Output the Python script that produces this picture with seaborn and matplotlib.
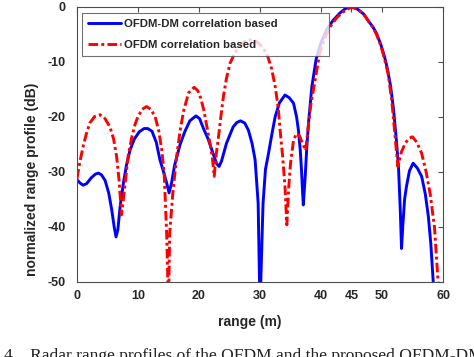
import numpy as np
import pandas as pd
import seaborn as sns
import matplotlib
matplotlib.use('Agg')
import matplotlib.pyplot as plt

sns.set_theme(style="white")
plt.rcParams['font.family'] = ['Liberation Sans', 'DejaVu Sans']
plt.rcParams['font.weight'] = 'bold'
plt.rcParams['axes.unicode_minus'] = False

# blue curve: OFDM-DM correlation based
dm_range = [0, 0.5, 1.0, 1.6, 2.3, 3.0, 3.5, 4.0, 4.6, 5.2, 5.7, 6.1, 6.4, 6.7, 7.1, 7.6,
            8.1, 8.7, 9.4, 10.2, 11.0, 11.6, 12.3, 13.0, 13.6, 14.2, 14.7, 15.1, 15.5, 16.0,
            16.9, 17.7, 18.5, 19.5, 20.1, 20.7, 21.5, 22.3, 22.9, 23.3, 23.7, 24.5, 25.6,
            26.2, 26.8, 27.5, 28.1, 28.7, 29.2, 29.7, 30.0, 30.5, 30.9, 31.4, 32.0, 32.5,
            33.2, 34.1, 34.8, 35.5, 36.0, 36.3, 36.6, 36.8, 37.0, 37.1, 37.4, 37.7, 38.0,
            38.5, 39.2, 40.0, 40.9, 42.0, 43.1, 44.0, 45.0, 46.0, 47.0, 47.8, 48.5, 49.1,
            49.8, 50.4, 50.8, 51.4, 51.9, 52.3, 52.7, 53.0, 53.2, 53.4, 53.7, 54.0, 54.5,
            55.1, 55.8, 56.5, 57.1, 57.6, 58.0, 58.4, 58.7]
dm_profile = [-31.4, -32.0, -32.4, -32.1, -31.1, -30.4, -30.2, -30.5, -31.5, -33.8, -36.9,
              -40.0, -41.8, -40.5, -36.0, -32.1, -28.8, -26.0, -24.0, -22.7, -22.1, -22.1,
              -22.6, -24.6, -27.8, -30.0, -32.0, -33.8, -32.0, -28.8, -25.0, -22.6, -20.7,
              -19.8, -20.3, -22.0, -24.0, -26.6, -28.5, -29.0, -28.0, -24.8, -21.8, -21.0,
              -20.7, -21.1, -22.4, -24.8, -27.8, -35.7, -55.0, -35.7, -29.5, -26.6, -22.8,
              -19.9, -17.4, -16.0, -16.5, -17.5, -20.0, -22.4, -26.0, -29.6, -34.0, -36.0,
              -31.0, -25.0, -20.5, -14.5, -9.5, -6.5, -4.2, -2.4, -1.1, -0.3, 0.0, -0.4,
              -1.3, -2.6, -3.6, -4.8, -6.8, -9.0, -10.8, -14.3, -18.7, -23.5, -29.0, -37.0,
              -43.9, -40.0, -35.0, -32.7, -29.8, -28.4, -29.3, -30.8, -34.0, -38.1, -43.0,
              -50.0, -55.0]

# red curve: OFDM correlation based
ofdm_range = [0, 0.5, 1.0, 1.5, 2.1, 2.9, 3.8, 4.6, 5.4, 6.0, 6.5, 6.9, 7.3, 7.6, 7.9, 8.4,
              9.0, 9.5, 10.0, 10.7, 11.4, 12.1, 12.8, 13.4, 13.9, 14.3, 14.7, 15.0, 15.2,
              15.7, 16.3, 16.9, 17.5, 18.3, 19.2, 19.8, 20.3, 20.8, 21.3, 21.8, 22.2, 22.5,
              22.8, 23.2, 23.6, 24.0, 24.5, 25.1, 25.9, 26.7, 27.8, 28.9, 30.0, 31.1, 31.9,
              32.5, 33.0, 33.3, 33.7, 34.1, 34.4, 34.7, 35.0, 35.5, 36.0, 36.5, 36.9, 37.5,
              37.9, 38.3, 38.75, 39.3, 39.8, 40.6, 41.5, 42.6, 43.7, 45.0, 46.0, 47.0, 47.8,
              48.5, 49.1, 49.8, 50.4, 51.0, 51.6, 52.1, 52.6, 53.2, 53.8, 54.4, 55.0, 55.7,
              56.5, 57.2, 57.9, 58.6, 59.2, 59.5]
ofdm_profile = [-31.2, -28.0, -25.4, -23.2, -21.1, -19.9, -19.6, -20.3, -21.8, -24.0, -27.2,
                -31.5, -37.8, -35.0, -32.0, -27.0, -23.6, -21.4, -19.9, -18.6, -18.1, -18.6,
                -19.9, -22.5, -26.0, -30.5, -41.1, -55.0, -41.1, -34.0, -27.5, -22.5, -18.8,
                -15.6, -14.6, -15.2, -16.6, -18.8, -21.8, -24.8, -27.5, -30.8, -27.0, -23.6,
                -19.8, -16.3, -13.0, -10.2, -8.3, -6.9, -6.1, -5.9, -6.8, -8.4, -11.2, -14.5,
                -18.5, -22.4, -27.0, -32.7, -39.6, -33.0, -28.5, -24.2, -23.0, -23.5, -24.6,
                -26.1, -21.8, -18.0, -15.1, -11.5, -8.4, -5.7, -3.6, -1.9, -0.85, 0.0, -0.4,
                -1.3, -2.6, -3.7, -5.0, -7.0, -9.4, -12.1, -17.0, -23.0, -29.0, -26.3, -24.8,
                -23.9, -23.6, -24.6, -26.6, -29.8, -34.0, -40.0, -50.0, -55.0]

x_ticks = [0, 10, 20, 30, 40, 45, 50, 60]
y_ticks = [0, -10, -20, -30, -40, -50]

dm = pd.DataFrame({'range': dm_range, 'profile': dm_profile})
ofdm = pd.DataFrame({'range': ofdm_range, 'profile': ofdm_profile})

fig = plt.figure(figsize=(4.74, 3.57), dpi=100)
ax = fig.add_axes([0.1624, 0.2101, 0.7722, 0.7703])

sns.lineplot(data=dm, x='range', y='profile', ax=ax, color='#0000ff', linewidth=2.1,
             estimator=None, sort=False, label='OFDM-DM correlation based')
sns.lineplot(data=ofdm, x='range', y='profile', ax=ax, color='#ff0000', linewidth=2.1,
             estimator=None, sort=False, linestyle=(0, (3.3, 1.1, 1.0, 1.1)),
             label='OFDM correlation based')

ax.set_xlim(0, 60)
ax.set_ylim(-50, 0)
ax.set_xticks(x_ticks)
ax.set_yticks(y_ticks)
ax.tick_params(direction='in', length=3.5, width=0.8, colors='0.3', labelcolor='#262626',
               labelsize=9, top=True, right=True)
ax.tick_params(axis='x', pad=6)
ax.tick_params(axis='y', pad=8)
for s in ax.spines.values():
    s.set_color('0.3')
    s.set_linewidth(0.8)
for lab in ax.get_xticklabels() + ax.get_yticklabels():
    lab.set_fontweight('bold')

ax.set_xlabel('range (m)', fontsize=10, fontweight='bold', color='#262626')
ax.set_ylabel('normalized range profile (dB)', fontsize=10, fontweight='bold',
              color='#262626')
ax.xaxis.set_label_coords(0.4713, -0.145)
ax.xaxis.label.set_va('center')
ax.yaxis.set_label_coords(-0.124, 0.3745)
ax.yaxis.label.set_va('center')

leg = ax.legend(loc='upper left', bbox_to_anchor=(0.0128, 0.3, 0.6757, 0.679),
                mode='expand', frameon=True, fancybox=False, edgecolor='0.3',
                fontsize=8.2, handlelength=2.9, borderaxespad=0.0, labelspacing=0.95,
                handletextpad=0.25, borderpad=0.55)
leg.get_frame().set_linewidth(0.8)
for t in leg.get_texts():
    t.set_fontweight('bold')
    t.set_color('#262626')

fig.text(0.008, 1 - 348 / 357, '4.   Radar range profiles of the OFDM and the proposed OFDM-DM',
         fontsize=12.5, family=['Liberation Serif', 'DejaVu Serif'], fontweight='normal',
         va='top', ha='left', color='#222222')

fig.savefig('out.png', dpi=100)
